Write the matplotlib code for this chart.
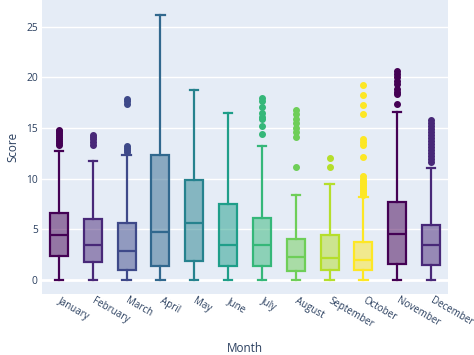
import matplotlib
matplotlib.use("Agg")
import matplotlib.pyplot as plt
import matplotlib.transforms as mtransforms
from matplotlib.colors import to_rgba

plt.rcParams['font.family'] = ['Open Sans', 'DejaVu Sans']

months = ["January", "February", "March", "April", "May", "June", "July",
          "August", "September", "October", "November", "December"]
colors = ["#440154", "#482878", "#3e4989", "#31688e", "#26828e", "#1f9e89",
          "#35b779", "#6ece58", "#b5de2b", "#fde725", "#440154", "#482878"]

whislo = [0, 0, 0, 0, 0, 0, 0, 0, 0, 0, 0, 0]
q1 = [2.35, 1.8, 1.0, 1.35, 1.9, 1.35, 1.35, 0.9, 0.95, 1.0, 1.55, 1.5]
med = [4.4, 3.5, 2.85, 4.75, 5.6, 3.45, 3.45, 2.25, 2.2, 1.95, 4.5, 3.45]
q3 = [6.6, 6.05, 5.6, 12.35, 9.9, 7.5, 6.15, 4.0, 4.45, 3.8, 7.7, 5.45]
whishi = [12.75, 11.7, 12.35, 26.15, 18.75, 16.45, 13.2, 8.4, 9.45, 8.2, 16.6, 11.1]

outliers = [
    [13.3, 13.5, 13.7, 13.9, 14.1, 14.3, 14.5, 14.7, 14.8],
    [13.3, 13.6, 13.9, 14.1, 14.3],
    [12.6, 12.8, 13.0, 13.2, 17.4, 17.7, 17.9],
    [],
    [],
    [],
    [14.45, 15.2, 15.85, 16.1, 16.45, 17.1, 17.7, 17.95],
    [11.15, 14.1, 14.6, 15.0, 15.45, 15.85, 16.35, 16.8],
    [11.15, 12.0],
    [8.4, 8.6, 8.8, 9.0, 9.2, 9.4, 9.6, 9.8, 10.0, 10.25, 12.15, 13.35, 13.6,
     13.9, 16.4, 17.3, 18.3, 19.25],
    [17.35, 18.35, 18.6, 18.9, 19.3, 19.6, 20.0, 20.3, 20.6],
    [11.6, 11.9, 12.2, 12.5, 12.8, 13.1, 13.4, 13.7, 14.0, 14.3, 14.6, 14.9,
     15.2, 15.5, 15.8],
]
yticks = [0, 5, 10, 15, 20, 25]

W, H = 474, 355
fig = plt.figure(figsize=(W / 100, H / 100), dpi=100)
ax = fig.add_axes([42 / W, (H - 294.3) / H, (448 - 42) / W, 294.3 / H])
ax.set_facecolor("#E5ECF6")

for y in yticks:
    ax.axhline(y, color="white", lw=2.0 if y == 0 else 1.0, zorder=0)

for i, m in enumerate(months):
    c = colors[i]
    stats = [dict(whislo=whislo[i], q1=q1[i], med=med[i], q3=q3[i],
                  whishi=whishi[i], fliers=outliers[i], label=m)]
    ax.bxp(stats, positions=[i], widths=0.53, capwidths=0.25,
           patch_artist=True, showfliers=True,
           boxprops=dict(facecolor=to_rgba(c, 0.5), edgecolor=c, linewidth=1.6),
           medianprops=dict(color=c, linewidth=1.6),
           whiskerprops=dict(color=c, linewidth=1.6),
           capprops=dict(color=c, linewidth=1.6),
           flierprops=dict(marker="o", markerfacecolor=c, markeredgecolor=c,
                           markersize=4.0, linestyle="none"))

ax.set_xlim(-0.5, len(months) - 0.5)
ax.set_ylim(-1.41, 27.64)
ax.set_yticks(yticks)
ax.set_xticks(range(len(months)))
ax.set_xticklabels(months, rotation=-30, ha="left", va="center",
                   rotation_mode="anchor")
offset = mtransforms.ScaledTranslation(-4 / 100, -2 / 100, fig.dpi_scale_trans)
for lbl in ax.get_xticklabels():
    lbl.set_transform(lbl.get_transform() + offset)
ax.tick_params(axis="both", length=0, labelsize=7.4, colors="#2a3f5f", pad=4)
ax.tick_params(axis="x", labelsize=7.0)
ax.tick_params(axis="y", pad=3)
for s in ax.spines.values():
    s.set_visible(False)

fig.text(245 / W, 1 - 349 / H, "Month", fontsize=8.4, color="#2a3f5f",
         ha="center", va="center")
fig.text(13 / W, 1 - 147 / H, "Score", fontsize=8.4, color="#2a3f5f",
         ha="center", va="center", rotation=90)

fig.savefig("out.png", dpi=100)
